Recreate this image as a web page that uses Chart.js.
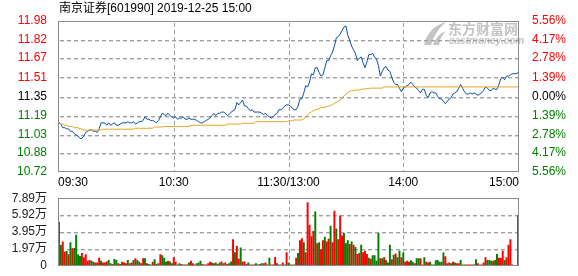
<!DOCTYPE html>
<html>
<head>
<meta charset="utf-8">
<script src="https://cdn.jsdelivr.net/npm/chart.js@4/dist/chart.umd.min.js"></script>
<style>
  body { margin: 0; background: #fff; width: 578px; height: 276px; overflow: hidden; position: relative; }
  #priceChart { position: absolute; left: 0; top: 0; }
  #volChart { position: absolute; left: 0; top: 188px; }
</style>
</head>
<body>
<canvas id="priceChart" width="578" height="190"></canvas>
<canvas id="volChart" width="578" height="88"></canvas>
<script>
// 南京证券 601990, 2019-12-25 minute data
const stockTitle = '南京证券[601990] 2019-12-25 15:00';
const prevClose = 11.35;

// one value per minute, 09:30 .. 11:30 then 13:00 .. 15:00 (241 points)
const price = [
  11.13, 11.12, 11.09, 11.09, 11.08, 11.08, 11.06, 11.06, 11.04, 11.03,
  11.02, 11.00, 11.00, 11.02, 11.05, 11.06, 11.07, 11.07, 11.06, 11.06,
  11.05, 11.08, 11.13, 11.13, 11.13, 11.11, 11.13, 11.11, 11.12, 11.13,
  11.11, 11.11, 11.12, 11.13, 11.13, 11.13, 11.14, 11.13, 11.13, 11.14,
  11.12, 11.13, 11.14, 11.14, 11.15, 11.18, 11.16, 11.16, 11.15, 11.15,
  11.14, 11.13, 11.15, 11.18, 11.21, 11.20, 11.19, 11.21, 11.19, 11.18,
  11.17, 11.18, 11.16, 11.17, 11.17, 11.18, 11.16, 11.16, 11.17, 11.16,
  11.16, 11.16, 11.15, 11.14, 11.13, 11.13, 11.14, 11.15, 11.16, 11.17,
  11.19, 11.21, 11.19, 11.21, 11.21, 11.22, 11.22, 11.21, 11.19, 11.20,
  11.22, 11.23, 11.24, 11.30, 11.28, 11.30, 11.32, 11.27, 11.27, 11.25,
  11.23, 11.24, 11.22, 11.22, 11.22, 11.22, 11.21, 11.20, 11.21, 11.19,
  11.18, 11.17, 11.18, 11.20, 11.21, 11.24, 11.24, 11.25, 11.27, 11.28,
  11.28, 11.27, 11.25, 11.24, 11.24, 11.27, 11.33, 11.33, 11.38, 11.44,
  11.43, 11.47, 11.54, 11.53, 11.59, 11.59, 11.55, 11.52, 11.53, 11.59,
  11.65, 11.65, 11.69, 11.72, 11.77, 11.84, 11.85, 11.87, 11.90, 11.93,
  11.94, 11.86, 11.82, 11.77, 11.74, 11.71, 11.65, 11.67, 11.68, 11.63,
  11.59, 11.64, 11.70, 11.70, 11.71, 11.68, 11.66, 11.61, 11.52, 11.56,
  11.59, 11.60, 11.57, 11.56, 11.51, 11.47, 11.45, 11.45, 11.42, 11.39,
  11.42, 11.43, 11.44, 11.45, 11.47, 11.45, 11.43, 11.42, 11.40, 11.38,
  11.41, 11.41, 11.36, 11.34, 11.38, 11.39, 11.38, 11.38, 11.35, 11.33,
  11.33, 11.31, 11.29, 11.31, 11.33, 11.34, 11.37, 11.38, 11.39, 11.42,
  11.45, 11.42, 11.39, 11.37, 11.37, 11.38, 11.37, 11.38, 11.37, 11.36,
  11.37, 11.38, 11.40, 11.43, 11.42, 11.40, 11.40, 11.42, 11.41, 11.41,
  11.45, 11.50, 11.51, 11.49, 11.52, 11.52, 11.53, 11.54, 11.54, 11.54, 11.55
];

const avgPrice = [
  11.13, 11.12, 11.12, 11.11, 11.11, 11.10, 11.10, 11.10, 11.09, 11.09,
  11.09, 11.08, 11.08, 11.07, 11.07, 11.07, 11.07, 11.07, 11.07, 11.07,
  11.07, 11.07, 11.07, 11.077, 11.077, 11.077, 11.077, 11.077, 11.077, 11.077,
  11.077, 11.077, 11.077, 11.077, 11.077, 11.077, 11.077, 11.077, 11.077, 11.077,
  11.085, 11.085, 11.085, 11.085, 11.085, 11.085, 11.085, 11.085, 11.085, 11.085,
  11.095, 11.095, 11.095, 11.095, 11.095, 11.10, 11.10, 11.10, 11.10, 11.10,
  11.10, 11.10, 11.10, 11.10, 11.10, 11.10, 11.10, 11.10, 11.10, 11.11,
  11.11, 11.11, 11.11, 11.11, 11.11, 11.11, 11.11, 11.11, 11.11, 11.11,
  11.11, 11.11, 11.11, 11.11, 11.11, 11.11, 11.11, 11.11, 11.12, 11.12,
  11.12, 11.12, 11.12, 11.12, 11.12, 11.12, 11.126, 11.126, 11.126, 11.126,
  11.126, 11.126, 11.126, 11.14, 11.14, 11.14, 11.14, 11.14, 11.14, 11.14,
  11.14, 11.14, 11.14, 11.14, 11.14, 11.14, 11.14, 11.14, 11.14, 11.14,
  11.148, 11.148, 11.148, 11.154, 11.154, 11.154, 11.154, 11.154, 11.162, 11.182,
  11.196, 11.21, 11.223, 11.232, 11.237, 11.243, 11.248, 11.257, 11.26, 11.26,
  11.265, 11.271, 11.276, 11.282, 11.293, 11.301, 11.31, 11.321, 11.337, 11.354,
  11.371, 11.382, 11.393, 11.399, 11.401, 11.404, 11.404, 11.404, 11.41, 11.413,
  11.413, 11.415, 11.418, 11.42, 11.42, 11.42, 11.42, 11.42, 11.42, 11.42,
  11.43, 11.43, 11.43, 11.43, 11.43, 11.43, 11.43, 11.43, 11.43, 11.43,
  11.43, 11.43, 11.43, 11.43, 11.43, 11.43, 11.43, 11.43, 11.43, 11.43,
  11.43, 11.43, 11.43, 11.43, 11.43, 11.43, 11.43, 11.43, 11.43, 11.43,
  11.43, 11.43, 11.43, 11.43, 11.43, 11.43, 11.43, 11.43, 11.43, 11.43,
  11.43, 11.43, 11.43, 11.43, 11.43, 11.43, 11.43, 11.43, 11.43, 11.43,
  11.43, 11.43, 11.43, 11.43, 11.43, 11.43, 11.43, 11.43, 11.43, 11.43,
  11.43, 11.43, 11.43, 11.43, 11.43, 11.43, 11.43, 11.43, 11.43, 11.43, 11.43
];

// volume per minute in 万, and direction (1 up = red, -1 down = green)
const volume = [
  5.1, 2.4, 2.8, 1.6, 1.7, 1.3, 2.7, 2.0, 2.05, 3.6,
  1.3, 1.1, 1.45, 0.97, 1.3, 0.54, 0.65, 0.54, 0.43, 0.36,
  0.36, 0.9, 0.54, 0.36, 0.36, 0.47, 0.65, 0.25, 0.18, 0.76,
  0.65, 0.25, 0.18, 0.43, 0.36, 0.25, 0.65, 0.25, 0.36, 0.65,
  0.83, 0.65, 0.43, 0.25, 0.83, 0.83, 0.25, 0.18, 0.1, 0.43,
  0.72, 0.18, 0.25, 1.3, 1.19, 0.9, 0.43, 0.54, 0.47, 0.25,
  0.97, 0.43, 0.1, 0.25, 0.18, 0.1, 0.1, 0.1, 0.36, 0.54,
  0.25, 0.1, 0.25, 0.36, 0.54, 0.18, 0.1, 0.1, 0.25, 0.43,
  0.36, 0.25, 0.36, 0.18, 0.36, 0.47, 0.25, 0.36, 0.18, 0.25,
  0.47, 3.06, 1.55, 2.27, 0.79, 2.09, 0.47, 0.47, 0.18, 0.36,
  0.1, 0.1, 0.1, 0.25, 0.1, 0.18, 0.25, 0.25, 0.36, 0.1,
  0.9, 0.1, 0.1, 1.0, 0.25, 0.1, 0.1, 0.36, 0.1, 1.55,
  0.36, 0.1, 0.1, 0.1, 0.9, 1.45, 2.95, 3.17, 2.7, 1.55,
  7.38, 4.75, 3.42, 4.03, 6.3, 2.59, 2.7, 1.87, 2.95, 3.35,
  2.8, 3.13, 4.64, 2.7, 6.4, 4.32, 3.06, 5.83, 3.49, 3.78,
  2.59, 2.95, 2.52, 2.8, 2.41, 2.16, 1.33, 1.45, 2.41, 1.55,
  1.73, 1.33, 0.9, 0.79, 1.19, 1.19, 0.54, 3.78, 0.83, 0.83,
  0.97, 0.65, 0.36, 2.41, 0.72, 1.26, 1.4, 0.97, 1.73, 0.97,
  1.51, 0.43, 0.54, 0.43, 0.61, 0.43, 0.25, 0.83, 0.83, 0.83,
  0.1, 0.97, 0.43, 0.36, 0.43, 0.1, 0.1, 0.61, 0.65, 0.43,
  0.43, 1.51, 1.08, 0.25, 0.36, 0.25, 0.43, 0.36, 0.25, 0.25,
  0.65, 0.1, 0.1, 0.1, 0.1, 0.1, 0.1, 0.1, 0.72, 0.25,
  0.1, 0.1, 0.36, 0.97, 0.65, 0.65, 0.54, 0.54, 0.65, 1.33,
  0.9, 0.9, 1.73, 0.65, 0.97, 2.41, 3.06, 0.1, 0, 0, 5.83
];

const volumeDir = [
  -1, -1, 1, 1, -1, 1, -1, 1, -1, -1,
  -1, -1, 1, 1, 1, 1, 1, -1, -1, 1,
  1, 1, -1, 1, 1, 1, -1, -1, 1, -1,
  -1, 1, -1, 1, 1, 1, -1, 1, 1, -1,
  1, -1, -1, 1, 1, -1, 1, -1, -1, 1,
  -1, -1, 1, 1, -1, -1, -1, 1, -1, -1,
  1, 1, -1, -1, 1, -1, 1, 1, -1, 1,
  1, 1, -1, -1, -1, 1, 1, 1, 1, 1,
  -1, 1, -1, 1, -1, 1, -1, 1, 1, -1,
  -1, 1, -1, 1, 1, -1, 1, 1, 1, -1,
  1, 1, -1, -1, 1, -1, -1, 1, 1, -1,
  -1, 1, 1, 1, 1, -1, -1, 1, -1, 1,
  -1, -1, -1, -1, 1, -1, 1, 1, -1, 1,
  1, 1, 1, 1, -1, 1, -1, 1, 1, -1,
  1, 1, -1, 1, 1, -1, 1, 1, 1, -1,
  -1, -1, 1, -1, 1, -1, 1, 1, -1, 1,
  1, 1, -1, 1, -1, -1, -1, -1, 1, -1,
  1, -1, -1, -1, 1, -1, 1, -1, -1, 1,
  -1, 1, 1, 1, -1, -1, 1, -1, -1, 1,
  1, -1, 1, 1, -1, -1, -1, -1, -1, -1,
  -1, -1, 1, 1, 1, -1, 1, -1, 1, 1,
  -1, -1, -1, 1, 1, 1, 1, -1, -1, 1,
  1, 1, 1, 1, -1, -1, -1, 1, -1, -1,
  1, 1, 1, -1, 1, 1, 1, 1, 0, 0, 1
];

// axis ticks
const priceTicks = [11.98, 11.82, 11.67, 11.51, 11.35, 11.19, 11.03, 10.88, 10.72];
const pctLabels = ['5.56%', '4.17%', '2.78%', '1.39%', '0.00%', '1.39%', '2.78%', '4.17%', '5.56%'];
const volTicks = [7.89, 5.92, 3.95, 1.97, 0];
const timeTicks = [0, 60, 120, 180, 240];
const gridMinutes = [60, 120, 180];
const timeLabels = ['09:30', '10:30', '11:30/13:00', '14:00', '15:00'];

const RED = '#ff0000';
const GREEN = '#008000';
const FONT = '"Liberation Sans", "Noto Sans CJK SC", sans-serif';

Chart.defaults.font.family = FONT;
Chart.defaults.font.size = 12;

const tickColor = (v) => v > prevClose + 0.001 ? RED : (v < prevClose - 0.001 ? GREEN : '#000');

// dashed grid (small dashes) under the series, frame on top
function makeFrame(yValues, yMin, yMax) {
  return {
    id: 'frame',
    beforeDatasetsDraw(chart) {
      const a = chart.chartArea;
      const ctx = chart.ctx;
      const xs = chart.scales.x;
      const l = Math.round(a.left), r = Math.round(a.right);
      const t = Math.round(a.top), b = Math.round(a.bottom);
      ctx.save();
      ctx.fillStyle = '#a0a0a0';
      for (let i = 0; i < yValues.length; i++) {
        const frac = (yMax - yValues[i]) / (yMax - yMin);
        const py = Math.round(a.top + frac * (a.bottom - a.top));
        if (py <= t + 1 || py >= b - 1) continue;
        for (let px = l + 2; px < r - 1; px += 7) ctx.fillRect(px, py, Math.min(4, r - 1 - px), 1.4);
      }
      gridMinutes.forEach(v => {
        const px = Math.round(xs.getPixelForValue(v));
        for (let py = t + 2; py < b - 1; py += 7) ctx.fillRect(px, py, 1, Math.min(4, b - 1 - py));
      });
      ctx.restore();
    },
    afterDraw(chart) {
      const a = chart.chartArea;
      const ctx = chart.ctx;
      ctx.save();
      ctx.strokeStyle = '#8c8c8c';
      ctx.lineWidth = 1;
      ctx.strokeRect(Math.round(a.left) + 0.5, Math.round(a.top) + 0.5,
        Math.round(a.right - a.left) - 1, Math.round(a.bottom - a.top) - 1);
      ctx.restore();
    }
  };
}

// title, time labels and watermark
const textPlugin = {
  id: 'texts',
  beforeDatasetsDraw(chart) {
    const ctx = chart.ctx;
    ctx.save();
    ctx.fillStyle = '#c4c4c4';
    ctx.beginPath();
    ctx.moveTo(424, 45);
    ctx.quadraticCurveTo(428, 27, 446, 22);
    ctx.quadraticCurveTo(435, 31, 431, 45);
    ctx.closePath();
    ctx.fill();
    ctx.beginPath();
    ctx.moveTo(433, 45);
    ctx.quadraticCurveTo(437, 34, 446, 31);
    ctx.quadraticCurveTo(440, 37, 439, 45);
    ctx.closePath();
    ctx.fill();
    ctx.textAlign = 'left';
    ctx.textBaseline = 'middle';
    ctx.font = 'bold 14px "Noto Sans CJK SC", sans-serif';
    ctx.fillText('东方财富网', 448, 29);
    ctx.font = 'italic bold 10px ' + FONT;
    ctx.fillText('eastmoney.com', 449, 41);
    ctx.restore();
  },
  afterDraw(chart) {
    const ctx = chart.ctx;
    const a = chart.chartArea;
    const x = chart.scales.x;
    ctx.save();
    ctx.fillStyle = '#000';
    ctx.textBaseline = 'middle';
    ctx.font = '12px ' + FONT;
    ctx.textAlign = 'left';
    ctx.fillText(stockTitle, 59, 9);
    timeTicks.forEach((t, i) => {
      let px = x.getPixelForValue(t);
      if (i === 0) { ctx.textAlign = 'left'; px = a.left; }
      else if (i === timeTicks.length - 1) { ctx.textAlign = 'right'; px = a.right; }
      else ctx.textAlign = 'center';
      ctx.fillText(timeLabels[i], px, 183);
    });
    ctx.restore();
  }
};

const xScale = {
  type: 'linear',
  min: -0.5,
  max: 240.5,
  ticks: { display: false },
  grid: { display: false },
  border: { display: false },
  afterFit: (s) => { s.height = 0; }
};

new Chart(document.getElementById('priceChart'), {
  type: 'line',
  data: {
    datasets: [
      {
        label: '均价',
        data: avgPrice.map((v, i) => ({ x: i, y: v })),
        borderColor: '#e3a21a',
        borderWidth: 1,
        pointRadius: 0,
        tension: 0
      },
      {
        label: '价格',
        data: price.map((v, i) => ({ x: i, y: v })),
        borderColor: '#0b4fa8',
        borderWidth: 1,
        pointRadius: 0,
        tension: 0
      }
    ]
  },
  options: {
    responsive: false,
    animation: false,
    layout: { padding: { top: 21, bottom: 18, left: 0, right: 0 } },
    plugins: { legend: { display: false }, tooltip: { enabled: false } },
    scales: {
      x: xScale,
      y: {
        position: 'left',
        min: 10.72,
        max: 11.98,
        afterBuildTicks: (s) => { s.ticks = priceTicks.map(v => ({ value: v })); },
        ticks: {
          autoSkip: false,
          padding: 3,
          color: (c) => tickColor(c.tick.value),
          callback: (v) => v.toFixed(2)
        },
        grid: { display: false },
        border: { display: false },
        afterFit: (s) => { s.width = 58; }
      },
      y2: {
        position: 'right',
        min: 10.72,
        max: 11.98,
        afterBuildTicks: (s) => { s.ticks = priceTicks.map(v => ({ value: v })); },
        ticks: {
          autoSkip: false,
          padding: 5,
          color: (c) => tickColor(c.tick.value),
          callback: (v, i) => pctLabels[i]
        },
        grid: { display: false },
        border: { display: false },
        afterFit: (s) => { s.width = 59; }
      }
    }
  },
  plugins: [textPlugin, makeFrame(priceTicks, 10.72, 11.98)]
});

new Chart(document.getElementById('volChart'), {
  type: 'bar',
  data: {
    datasets: [{
      label: '成交量',
      data: volume.map((v, i) => ({ x: i, y: v })),
      backgroundColor: volumeDir.map(d => d > 0 ? RED : GREEN),
      barThickness: 1.3,
      borderWidth: 0
    }]
  },
  options: {
    responsive: false,
    animation: false,
    layout: { padding: { top: 8, bottom: 6, left: 0, right: 59 } },
    plugins: { legend: { display: false }, tooltip: { enabled: false } },
    scales: {
      x: Object.assign({}, xScale, { offset: false }),
      y: {
        position: 'left',
        min: 0,
        max: 7.89,
        afterBuildTicks: (s) => { s.ticks = volTicks.map(v => ({ value: v })); },
        ticks: {
          autoSkip: false,
          padding: 3,
          color: '#222',
          callback: (v) => v === 0 ? '0' : v.toFixed(2) + '万'
        },
        grid: { display: false },
        border: { display: false },
        afterFit: (s) => { s.width = 58; }
      }
    }
  },
  plugins: [makeFrame(volTicks, 0, 7.89)]
});
</script>
</body>
</html>
